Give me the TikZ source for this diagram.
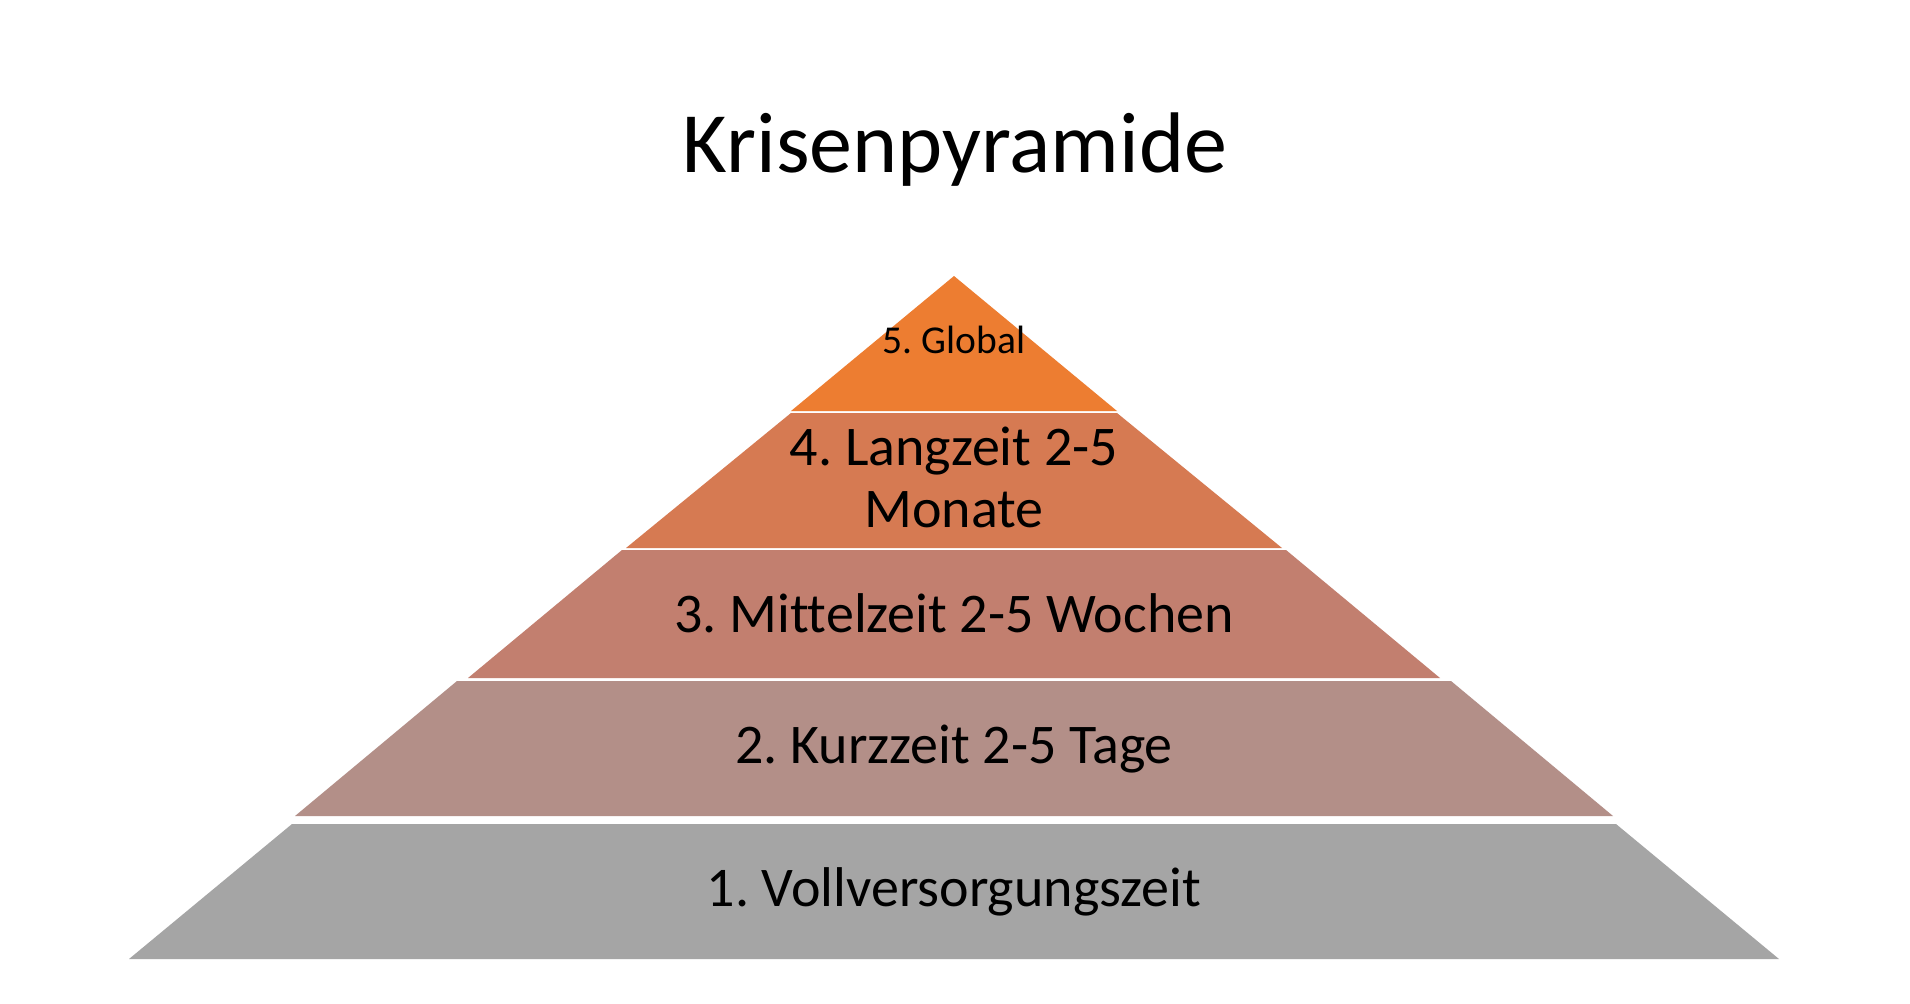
\documentclass[tikz,border=0pt]{standalone}
\usepackage{fontspec}
\setmainfont{Carlito}[Ligatures=NoCommon]
\frenchspacing
\definecolor{cfive}{HTML}{ED7D31}
\definecolor{cfour}{HTML}{D67A52}
\definecolor{cthree}{HTML}{C27F6F}
\definecolor{ctwo}{HTML}{B38F88}
\definecolor{cone}{HTML}{A5A5A5}
\tikzset{
  lbl/.style={anchor=base, inner sep=0pt, text=black, font=\fontsize{56bp}{62bp}\selectfont},
  lblsmall/.style={anchor=base, inner sep=0pt, text=black, font=\fontsize{39.5bp}{46bp}\selectfont},
  ttl/.style={anchor=base, inner sep=0pt, text=black, font=\fontsize{86bp}{100bp}\selectfont},
}
\begin{document}
\begin{tikzpicture}[x=1bp,y=-1bp]
\useasboundingbox (0,0) rectangle (1910,1003);
\fill[white] (0,0) rectangle (1910,1003);
% layers
\fill[cfive]  (954,276) -- (954+163,411) -- (954-163,411) -- cycle;
\fill[cfour]  (954-163,413) -- (954+163,413) -- (954+328,548) -- (954-328,548) -- cycle;
\fill[cthree] (954-332,550) -- (954+332,550) -- (954+486,678) -- (954-486,678) -- cycle;
\fill[ctwo]   (954-497,681) -- (954+497,681) -- (954+659,816) -- (954-659,816) -- cycle;
\fill[cone]   (954-662,824) -- (954+662,824) -- (954+825,959) -- (954-825,959) -- cycle;
% texts
\node[ttl] (title) at (955,172) {Krisenpyramide};
\node[lblsmall] (t5) at (954,353) {5. Global};
\node[lbl] (t4a) at (954,465) {4. Langzeit 2-5};
\node[lbl] (t4b) at (954,527) {Monate};
\node[lbl] (t3) at (954,632) {3. Mittelzeit 2-5 Wochen};
\node[lbl] (t2) at (954,763) {2. Kurzzeit 2-5 Tage};
\node[lbl] (t1) at (954,906) {1. Vollversorgungszeit};
\end{tikzpicture}
\end{document}
